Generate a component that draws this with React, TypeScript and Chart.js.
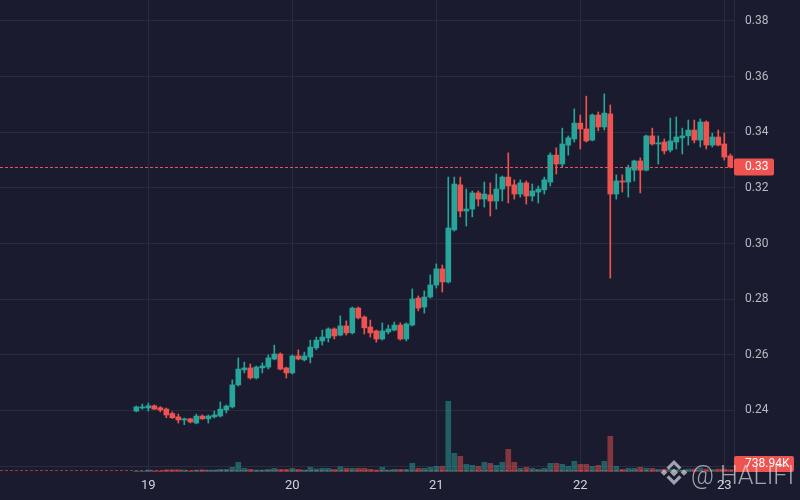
import React, { useEffect, useRef } from 'react';
import { Chart, registerables } from 'chart.js';

Chart.register(...registerables);

// ---- data (hourly candles, 18th 22:00 -> 23rd 01:00) ----
const dayLabels = ['19', '20', '21', '22', '23'];
const dayTickIndex = [2, 26, 50, 74, 98];
const priceTicks = [0.22, 0.24, 0.26, 0.28, 0.3, 0.32, 0.34, 0.36, 0.38];

const opens = [
  0.2398, 0.2409, 0.2409, 0.2417, 0.241, 0.2405, 0.2389, 0.2377, 0.2366, 0.237,
  0.2355, 0.238, 0.237, 0.2377, 0.238, 0.2402, 0.2413, 0.2492, 0.2546, 0.2553,
  0.2517, 0.2553, 0.2556, 0.2585, 0.2603, 0.2553, 0.2535, 0.2596, 0.2582, 0.2592,
  0.2625, 0.265, 0.2661, 0.2693, 0.2671, 0.2704, 0.2679, 0.2768, 0.2736, 0.27,
  0.2686, 0.2657, 0.2682, 0.2689, 0.2707, 0.2657, 0.2707, 0.2804, 0.2772, 0.2808,
  0.2851, 0.2909, 0.2862, 0.3049, 0.3211, 0.3117, 0.3124, 0.3182, 0.316, 0.3175,
  0.3153, 0.3196, 0.3239, 0.3211, 0.3178, 0.3218, 0.3171, 0.3185, 0.3193, 0.3221,
  0.3318, 0.3286, 0.3354, 0.3376, 0.3433, 0.3412, 0.3372, 0.3462, 0.3419, 0.3466,
  0.3178, 0.3225, 0.3221, 0.3264, 0.3297, 0.3264, 0.3387, 0.3358, 0.3365, 0.3336,
  0.3365, 0.338, 0.3387, 0.3408, 0.3372, 0.3437, 0.3354, 0.3383, 0.3358, 0.3315,
];
const highs = [
  0.2416, 0.2423, 0.2427, 0.242, 0.2414, 0.2409, 0.2395, 0.2387, 0.2373, 0.2372,
  0.2387, 0.2384, 0.2384, 0.2398, 0.2431, 0.242, 0.251, 0.2589, 0.2574, 0.2567,
  0.256, 0.2571, 0.26, 0.2635, 0.2607, 0.2556, 0.26, 0.2618, 0.261, 0.2653,
  0.2664, 0.2689, 0.2697, 0.2697, 0.274, 0.2722, 0.2772, 0.2772, 0.274, 0.2725,
  0.2689, 0.2715, 0.2707, 0.2718, 0.2715, 0.2715, 0.2837, 0.2812, 0.283, 0.2887,
  0.2927, 0.2923, 0.3239, 0.3239, 0.3239, 0.3196, 0.3189, 0.3189, 0.3221, 0.3218,
  0.325, 0.3243, 0.3326, 0.3229, 0.3229, 0.3225, 0.3214, 0.3207, 0.3239, 0.3326,
  0.3344, 0.3415, 0.3387, 0.3484, 0.3462, 0.353, 0.3466, 0.3473, 0.3538, 0.3498,
  0.3247, 0.3247, 0.3282, 0.33, 0.3308, 0.339, 0.3415, 0.3387, 0.3376, 0.3451,
  0.3455, 0.3415, 0.3444, 0.3444, 0.3448, 0.3441, 0.3397, 0.3408, 0.3397, 0.3322,
];
const lows = [
  0.2395, 0.2405, 0.2398, 0.2404, 0.2395, 0.2374, 0.2371, 0.2355, 0.2349, 0.2355,
  0.2352, 0.2368, 0.2355, 0.2373, 0.2377, 0.2391, 0.2409, 0.2488, 0.2535, 0.2513,
  0.2513, 0.2535, 0.2549, 0.2582, 0.2546, 0.2517, 0.2531, 0.2582, 0.2578, 0.2571,
  0.2618, 0.2635, 0.2646, 0.2657, 0.2668, 0.2671, 0.2675, 0.2729, 0.2675, 0.2664,
  0.2646, 0.2653, 0.2675, 0.2686, 0.2653, 0.265, 0.2704, 0.2758, 0.275, 0.2804,
  0.284, 0.2826, 0.2858, 0.3045, 0.3096, 0.3063, 0.3096, 0.3135, 0.3131, 0.3099,
  0.3124, 0.3153, 0.3146, 0.316, 0.3167, 0.3142, 0.3153, 0.3146, 0.3178, 0.3207,
  0.325, 0.3275, 0.3318, 0.3365, 0.334, 0.3365, 0.3369, 0.3405, 0.3408, 0.2876,
  0.316, 0.3185, 0.3167, 0.3225, 0.3182, 0.3261, 0.3354, 0.3286, 0.3322, 0.3329,
  0.334, 0.3322, 0.3354, 0.3362, 0.3347, 0.334, 0.3347, 0.3351, 0.33, 0.3272,
];
const closes = [
  0.2413, 0.2413, 0.2417, 0.2405, 0.2402, 0.2384, 0.2374, 0.2366, 0.237, 0.2359,
  0.238, 0.237, 0.238, 0.2384, 0.2405, 0.2416, 0.2492, 0.2549, 0.2553, 0.2517,
  0.2556, 0.256, 0.2589, 0.2603, 0.2549, 0.2535, 0.2596, 0.2585, 0.2596, 0.2628,
  0.2653, 0.2664, 0.2693, 0.2668, 0.2704, 0.2679, 0.2768, 0.2733, 0.2697, 0.2679,
  0.2657, 0.2686, 0.2693, 0.2707, 0.2657, 0.2711, 0.2801, 0.2768, 0.2808, 0.2851,
  0.2909, 0.2862, 0.3056, 0.3214, 0.3117, 0.3124, 0.3182, 0.316, 0.3178, 0.3153,
  0.3196, 0.3239, 0.3207, 0.3178, 0.3218, 0.3171, 0.3189, 0.3196, 0.3229, 0.3318,
  0.3286, 0.3358, 0.338, 0.3433, 0.3412, 0.3369, 0.3462, 0.3419, 0.3469, 0.3178,
  0.3225, 0.3221, 0.3272, 0.3297, 0.3264, 0.3387, 0.3358, 0.3362, 0.3333, 0.3369,
  0.3383, 0.3387, 0.3408, 0.3372, 0.3437, 0.3354, 0.3383, 0.3354, 0.3311, 0.3275,
];
// volume in thousands
const volumes = [
  215, 215, 615, 310, 310, 710, 710, 710, 615, 310,
  615, 710, 615, 615, 830, 830, 1450, 2990, 1140, 830,
  615, 615, 830, 1140, 830, 830, 1140, 830, 615, 1450,
  925, 1140, 1140, 830, 1630, 1140, 1140, 1140, 1140, 830,
  615, 1450, 615, 830, 830, 830, 2680, 1140, 1140, 1450,
  1760, 1760, 21780, 5760, 4840, 2370, 2060, 1760, 2990, 2680,
  2060, 2990, 6990, 2990, 1140, 1450, 1140, 830, 1140, 2680,
  2680, 2370, 1760, 3300, 2370, 2370, 1760, 2060, 3300, 11000,
  1760, 830, 1140, 1140, 1450, 1140, 1140, 830, 925, 925,
  770, 615, 925, 925, 1230, 925, 770, 925, 925, 738.94,
];
const lastPriceLabel = '0.33';
const lastVolumeLabel = '738.94K';
const watermarkText = '@ HALIFI';

const UP = '#26a69a';
const DOWN = '#ef5350';
const UP_VOL = 'rgba(38,166,154,0.5)';
const DOWN_VOL = 'rgba(239,83,80,0.5)';
const BG = '#1a1b2e';
const GRID = '#2a2b3e';
const FONT = 'Roboto, "Liberation Sans", sans-serif';

export default function App() {
  const ref = useRef<HTMLCanvasElement | null>(null);

  useEffect(() => {
    if (!ref.current) return;
    const isUp = closes.map((c, i) => c >= opens[i]);
    const candleColors = isUp.map((u) => (u ? UP : DOWN));
    const volColors = isUp.map((u) => (u ? UP_VOL : DOWN_VOL));
    const lastIdx = closes.length - 1;

    const overlay = {
      id: 'overlay',
      beforeDraw(chart: any) {
        const { ctx, width, height } = chart;
        ctx.save();
        ctx.fillStyle = BG;
        ctx.fillRect(0, 0, width, height);
        ctx.restore();
      },
      afterDatasetsDraw(chart: any) {
        const { ctx, chartArea } = chart;
        const y = chart.scales.y;
        const v = chart.scales.v;
        ctx.save();
        ctx.setLineDash([3, 2]);
        ctx.lineWidth = 1;
        // last price line
        const py = Math.round(y.getPixelForValue(closes[lastIdx])) + 0.5;
        ctx.strokeStyle = DOWN;
        ctx.beginPath();
        ctx.moveTo(chartArea.left, py);
        ctx.lineTo(chartArea.right, py);
        ctx.stroke();
        // last volume line
        const vy = Math.round(v.getPixelForValue(volumes[lastIdx])) + 0.5;
        ctx.strokeStyle = 'rgba(239,83,80,0.6)';
        ctx.beginPath();
        ctx.moveTo(chartArea.left, vy);
        ctx.lineTo(chartArea.right, vy);
        ctx.stroke();
        ctx.restore();
      },
      afterDraw(chart: any) {
        const { ctx, chartArea } = chart;
        const y = chart.scales.y;
        const v = chart.scales.v;
        const left = chartArea.right;
        ctx.save();
        ctx.font = `12px ${FONT}`;
        ctx.textBaseline = 'middle';
        ctx.textAlign = 'left';
        // price label
        const py = y.getPixelForValue(closes[lastIdx]);
        ctx.fillStyle = DOWN;
        ctx.beginPath();
        (ctx as any).roundRect(left, py - 8.5, 40, 17, 2);
        ctx.fill();
        ctx.fillStyle = '#ffffff';
        ctx.fillText(lastPriceLabel, left + 11, py);
        // volume label
        let vy = v.getPixelForValue(volumes[lastIdx]);
        vy = Math.min(vy, chartArea.bottom - 8);
        ctx.fillStyle = DOWN;
        ctx.beginPath();
        (ctx as any).roundRect(left, vy - 8, 60, 16, 2);
        ctx.fill();
        ctx.fillStyle = '#ffffff';
        ctx.fillText(lastVolumeLabel, left + 11, vy);

        // watermark
        const wc = 'rgba(220,220,228,0.7)';
        ctx.fillStyle = wc;
        const cx = 674;
        const cy = 472.5;
        const poly = (pts: number[][]) => {
          ctx.beginPath();
          ctx.moveTo(cx + pts[0][0], cy + pts[0][1]);
          for (let k = 1; k < pts.length; k++) ctx.lineTo(cx + pts[k][0], cy + pts[k][1]);
          ctx.closePath();
          ctx.fill();
        };
        poly([[0, -4], [4, 0], [0, 4], [-4, 0]]);
        poly([[-10, -3.3], [-6.7, 0], [-10, 3.3], [-13.3, 0]]);
        poly([[10, -3.3], [13.3, 0], [10, 3.3], [6.7, 0]]);
        poly([[-7.5, -5], [0, -12.5], [7.5, -5], [5.2, -2.7], [0, -7.9], [-5.2, -2.7]]);
        poly([[-7.5, 5], [0, 12.5], [7.5, 5], [5.2, 2.7], [0, 7.9], [-5.2, 2.7]]);
        ctx.font = `300 25px ${FONT}`;
        ctx.textBaseline = 'alphabetic';
        ctx.fillText(watermarkText, 691, 484);
        ctx.restore();
      },
    };

    const chart = new Chart(ref.current, {
      type: 'bar',
      data: {
        datasets: [
          {
            label: 'body',
            data: opens.map((o, i) => ({ x: i, y: [o, closes[i]] })) as any,
            backgroundColor: candleColors,
            barThickness: 5,
            minBarLength: 1,
            grouped: false,
            yAxisID: 'y',
            order: 1,
          } as any,
          {
            label: 'wick',
            data: lows.map((l, i) => ({ x: i, y: [l, highs[i]] })) as any,
            backgroundColor: candleColors,
            barThickness: 1,
            grouped: false,
            yAxisID: 'y',
            order: 2,
          } as any,
          {
            label: 'volume',
            data: volumes.map((vv, i) => ({ x: i, y: vv })) as any,
            backgroundColor: volColors,
            barThickness: 5,
            grouped: false,
            yAxisID: 'v',
            order: 3,
          } as any,
        ],
      },
      options: {
        animation: false,
        responsive: true,
        maintainAspectRatio: false,
        layout: { padding: 0 },
        plugins: { legend: { display: false }, tooltip: { enabled: false } },
        scales: {
          x: {
            type: 'linear',
            min: -22.72,
            max: 99.62,
            offset: false,
            afterBuildTicks: (s: any) => {
              s.ticks = dayTickIndex.map((t) => ({ value: t }));
            },
            afterFit: (s: any) => {
              s.height = 28;
              s.paddingLeft = 0;
              s.paddingRight = 0;
            },
            ticks: {
              autoSkip: false,
              maxRotation: 0,
              padding: 6,
              color: '#d1d4dc',
              font: { size: 13, family: FONT },
              callback: (val: any) => {
                const k = dayTickIndex.indexOf(Number(val));
                return k >= 0 ? dayLabels[k] : '';
              },
            },
            grid: { color: GRID, drawTicks: false, offset: false },
            border: { display: false },
          },
          y: {
            type: 'linear',
            position: 'right',
            min: 0.217894,
            max: 0.387548,
            afterBuildTicks: (s: any) => {
              s.ticks = priceTicks.map((t) => ({ value: t }));
            },
            afterFit: (s: any) => {
              s.width = 66;
              s.paddingTop = 0;
              s.paddingBottom = 0;
            },
            ticks: {
              padding: 11,
              color: '#b8bbc4',
              font: { size: 12, family: FONT },
              callback: (val: any) => Number(val).toFixed(2),
            },
            grid: { color: GRID, drawTicks: false },
            border: { display: true, color: GRID },
          },
          v: {
            type: 'linear',
            display: false,
            min: 0,
            max: 145400,
          },
        },
      } as any,
      plugins: [overlay as any],
    });
    return () => chart.destroy();
  }, []);

  return (
    <div style={{ position: 'fixed', left: 0, top: 0, width: 800, height: 500, background: BG }}>
      <canvas ref={ref} />
    </div>
  );
}
